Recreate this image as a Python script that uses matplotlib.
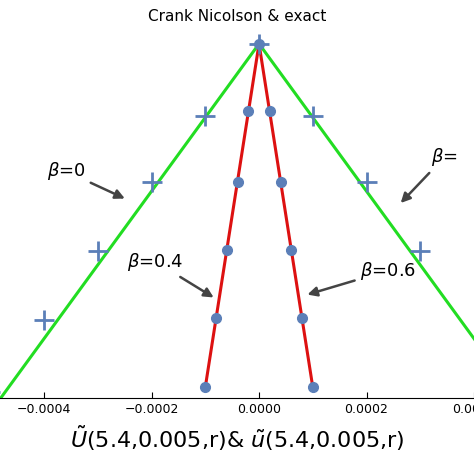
import numpy as np
import matplotlib
matplotlib.use("Agg")
import matplotlib.pyplot as plt

# Crank Nicolson points (plus markers)
cn0_r = [-0.0005, -0.0004, -0.0003, -0.0002, -0.0001, 0.0, 0.0001, 0.0002, 0.0003]
cn0_u = [0.017, 0.221, 0.414, 0.609, 0.796, 1.0, 0.796, 0.609, 0.414]
# Crank Nicolson points (dots)
cn4_r = [-0.0001, -0.00008, -0.00006, -0.00004, -0.00002, 0.0, 0.00002, 0.00004, 0.00006, 0.00008, 0.0001]
cn4_u = [0.031, 0.227, 0.419, 0.609, 0.810, 1.0, 0.810, 0.609, 0.419, 0.227, 0.031]
# exact lines
ex0_r = [-0.0005, 0.0, 0.0005]
ex0_u = [-0.04, 1.0, -0.04]
ex4_r = [-0.0001, 0.0, 0.0001]
ex4_u = [0.031, 1.0, 0.031]
ticks = [-0.0004, -0.0002, 0.0, 0.0002, 0.0004]
tick_labels = ["\u22120.0004", "\u22120.0002", "0.0000", "0.0002", "0.0004"]

fig = plt.figure(figsize=(4.74, 4.74), dpi=100)
ax = fig.add_axes([0.0, 0.16, 1.0, 0.785])
ax.plot(ex0_r, ex0_u, color="#22dd22", lw=2.2, zorder=2)
ax.plot(ex4_r, ex4_u, color="#dd1111", lw=2.2, zorder=2)
ax.plot(cn0_r, cn0_u, "+", color="#5b7fb8", ms=14, mew=2, ls="none", zorder=3, clip_on=False)
ax.plot(cn4_r, cn4_u, "o", color="#5b7fb8", ms=7, ls="none", zorder=3)
ax.set_xlim(-0.000482, 0.000364)
ax.set_ylim(0, 1.05)
ax.set_xticks(ticks)
ax.set_xticklabels(tick_labels, fontsize=9)
ax.set_yticks([])
for s in ["top", "left", "right"]:
    ax.spines[s].set_visible(False)
ax.tick_params(axis="x", direction="in", length=4)
ax.set_title("Crank Nicolson & exact", fontsize=11, pad=4)
ax.set_xlabel(r"$\tilde{U}$(5.4,0.005,r)& $\tilde{u}$(5.4,0.005,r)", fontsize=16, labelpad=6)

arr = dict(arrowstyle="-|>", color="#444444", lw=1.8, mutation_scale=14)
ax.annotate(r"$\beta$=0", xy=(-0.000245, 0.56), xytext=(-0.000395, 0.64), fontsize=13, arrowprops=arr, va="center")
ax.annotate(r"$\beta$=0.4", xy=(-0.000080, 0.28), xytext=(-0.000245, 0.385), fontsize=13, arrowprops=arr, va="center")
ax.annotate(r"$\beta$=0.6", xy=(0.000085, 0.29), xytext=(0.000188, 0.36), fontsize=13, arrowprops=arr, va="center")
ax.annotate(r"$\beta$=", xy=(0.000260, 0.545), xytext=(0.000320, 0.68), fontsize=13, arrowprops=arr, va="center")
fig.savefig("out.png", dpi=100)
